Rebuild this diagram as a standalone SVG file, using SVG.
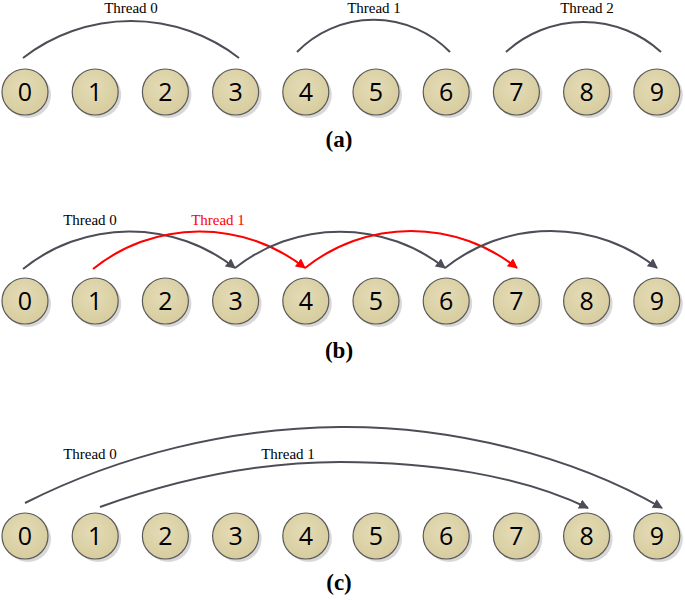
<svg xmlns="http://www.w3.org/2000/svg" width="685" height="600" viewBox="0 0 685 600">
<defs>
<radialGradient id="g" cx="0.45" cy="0.4" r="0.65">
<stop offset="0" stop-color="#e4dcb8"/>
<stop offset="1" stop-color="#d6cb9c"/>
</radialGradient>
<marker id="ag" viewBox="0 0 10 10" refX="9" refY="5" markerWidth="5" markerHeight="5" orient="auto" markerUnits="strokeWidth">
<path d="M0,0 L10,5 L0,10 z" fill="#4d4d57"/>
</marker>
<marker id="ar" viewBox="0 0 10 10" refX="9" refY="5" markerWidth="5" markerHeight="5" orient="auto" markerUnits="strokeWidth">
<path d="M0,0 L10,5 L0,10 z" fill="#ff0000"/>
</marker>
<symbol id="n" overflow="visible">
<circle cx="3" cy="3" r="23" fill="#c8c8c8" opacity="0.7"/>
<circle cx="0" cy="0" r="23" fill="url(#g)" stroke="#5a5a5a" stroke-width="1.2"/>
</symbol>
</defs>
<style>
.num{font-family:"Open Sans","Noto Sans",sans-serif;font-size:25px;fill:#000;text-anchor:middle}
.lbl{font-family:"Liberation Serif",serif;font-size:15px;fill:#000;text-anchor:middle}
.cap{font-family:"Liberation Serif",serif;font-size:23px;font-weight:bold;fill:#000;text-anchor:middle}
.c{fill:none;stroke:#4d4d57;stroke-width:2}
.r{fill:none;stroke:#ff0000;stroke-width:2}
</style>

<g id="connectors">
<path class="c" d="M23,58 A176,176 0 0 1 239,58"/>
<path class="c" d="M297,52 A107,107 0 0 1 450,52"/>
<path class="c" d="M506,52 A115,115 0 0 1 661,52"/>
<path class="c" d="M23,269 A170,170 0 0 1 235,268" marker-end="url(#ag)"/>
<path class="r" d="M93,269 A170,170 0 0 1 305,268" marker-end="url(#ar)"/>
<path class="c" d="M235,268 A170,170 0 0 1 445,268" marker-end="url(#ag)"/>
<path class="r" d="M305,268 A170,170 0 0 1 517,268" marker-end="url(#ar)"/>
<path class="c" d="M445,268 A170,170 0 0 1 657,268" marker-end="url(#ag)"/>
<path class="c" d="M25,503 C120,455 230,428 340,427 C450,426 570,455 662,508" marker-end="url(#ag)"/>
<path class="c" d="M100,507 C180,478 260,462 340,462 C430,462 520,475 588,508" marker-end="url(#ag)"/>
</g>

<g id="labels">
<text class="lbl" x="131" y="13">Thread 0</text>
<text class="lbl" x="374" y="13">Thread 1</text>
<text class="lbl" x="587" y="13">Thread 2</text>
<text class="lbl" x="90" y="225">Thread 0</text>
<text class="lbl" x="218" y="225" style="fill:#ff0000">Thread 1</text>
<text class="lbl" x="90" y="459">Thread 0</text>
<text class="lbl" x="288" y="459">Thread 1</text>
<text class="cap" x="339" y="147">(a)</text>
<text class="cap" x="339" y="358">(b)</text>
<text class="cap" x="339" y="590">(c)</text>
</g>

<g id="row-a">
<g id="a0"><use href="#n" x="25" y="92"/><text class="num" x="25" y="101">0</text></g>
<g id="a1"><use href="#n" x="95.2" y="92"/><text class="num" x="95.2" y="101">1</text></g>
<g id="a2"><use href="#n" x="165.4" y="92"/><text class="num" x="165.4" y="101">2</text></g>
<g id="a3"><use href="#n" x="235.6" y="92"/><text class="num" x="235.6" y="101">3</text></g>
<g id="a4"><use href="#n" x="305.8" y="92"/><text class="num" x="305.8" y="101">4</text></g>
<g id="a5"><use href="#n" x="376" y="92"/><text class="num" x="376" y="101">5</text></g>
<g id="a6"><use href="#n" x="446.2" y="92"/><text class="num" x="446.2" y="101">6</text></g>
<g id="a7"><use href="#n" x="516.4" y="92"/><text class="num" x="516.4" y="101">7</text></g>
<g id="a8"><use href="#n" x="586.6" y="92"/><text class="num" x="586.6" y="101">8</text></g>
<g id="a9"><use href="#n" x="656.8" y="92"/><text class="num" x="656.8" y="101">9</text></g>
</g>
<g id="row-b">
<g id="b0"><use href="#n" x="25" y="301"/><text class="num" x="25" y="310">0</text></g>
<g id="b1"><use href="#n" x="95.2" y="301"/><text class="num" x="95.2" y="310">1</text></g>
<g id="b2"><use href="#n" x="165.4" y="301"/><text class="num" x="165.4" y="310">2</text></g>
<g id="b3"><use href="#n" x="235.6" y="301"/><text class="num" x="235.6" y="310">3</text></g>
<g id="b4"><use href="#n" x="305.8" y="301"/><text class="num" x="305.8" y="310">4</text></g>
<g id="b5"><use href="#n" x="376" y="301"/><text class="num" x="376" y="310">5</text></g>
<g id="b6"><use href="#n" x="446.2" y="301"/><text class="num" x="446.2" y="310">6</text></g>
<g id="b7"><use href="#n" x="516.4" y="301"/><text class="num" x="516.4" y="310">7</text></g>
<g id="b8"><use href="#n" x="586.6" y="301"/><text class="num" x="586.6" y="310">8</text></g>
<g id="b9"><use href="#n" x="656.8" y="301"/><text class="num" x="656.8" y="310">9</text></g>
</g>
<g id="row-c">
<g id="c0"><use href="#n" x="25" y="536"/><text class="num" x="25" y="545">0</text></g>
<g id="c1"><use href="#n" x="95.2" y="536"/><text class="num" x="95.2" y="545">1</text></g>
<g id="c2"><use href="#n" x="165.4" y="536"/><text class="num" x="165.4" y="545">2</text></g>
<g id="c3"><use href="#n" x="235.6" y="536"/><text class="num" x="235.6" y="545">3</text></g>
<g id="c4"><use href="#n" x="305.8" y="536"/><text class="num" x="305.8" y="545">4</text></g>
<g id="c5"><use href="#n" x="376" y="536"/><text class="num" x="376" y="545">5</text></g>
<g id="c6"><use href="#n" x="446.2" y="536"/><text class="num" x="446.2" y="545">6</text></g>
<g id="c7"><use href="#n" x="516.4" y="536"/><text class="num" x="516.4" y="545">7</text></g>
<g id="c8"><use href="#n" x="586.6" y="536"/><text class="num" x="586.6" y="545">8</text></g>
<g id="c9"><use href="#n" x="656.8" y="536"/><text class="num" x="656.8" y="545">9</text></g>
</g>
</svg>
